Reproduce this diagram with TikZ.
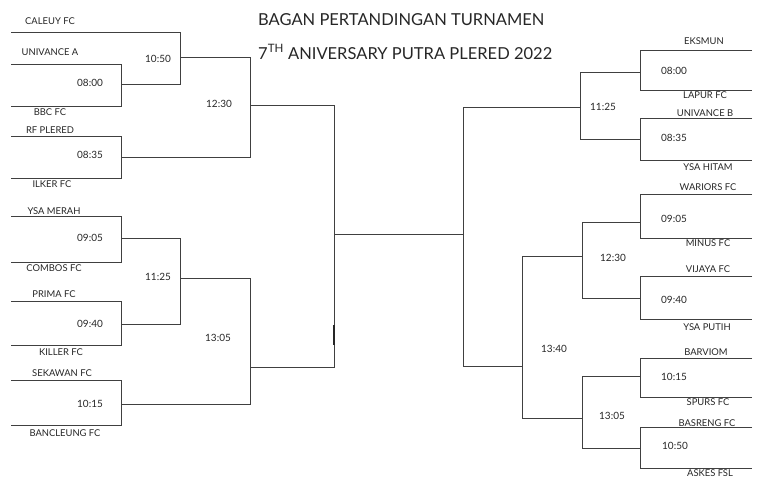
\documentclass[tikz,border=0pt]{standalone}
\usepackage{fontspec}
\setmainfont{Lato}
\usepackage{tikz}
\usetikzlibrary{positioning, calc}

\begin{document}
\begin{tikzpicture}[
    x=1pt, y=-1pt,
    every node/.style={text=black!85, inner sep=0pt},
    team/.style={font=\fontsize{9.4}{10}\selectfont},
    jam/.style={font=\fontsize{10}{11}\selectfont},
    judul/.style={font=\fontsize{16.5}{18}\selectfont, anchor=west},
    garis/.style={draw=black!75, line width=0.8pt},
    ]

    \useasboundingbox (0,0) rectangle (768,503);

    % Title
    \node[judul] (judul1) at (258,20) {BAGAN PERTANDINGAN TURNAMEN};
    \node[judul] (judul2) at (258,52) {7\textsuperscript{TH} ANIVERSARY PUTRA PLERED 2022};

    % ---------- left side ----------
    % first round
    \draw[garis] (11,32) -- (180,32);
    \draw[garis] (11,64) -- (121,64) -- (121,106) -- (11,106);
    \draw[garis] (11,136) -- (121,136) -- (121,178) -- (11,178);
    \draw[garis] (11,216) -- (121,216) -- (121,262) -- (11,262);
    \draw[garis] (11,301) -- (121,301) -- (121,345) -- (11,345);
    \draw[garis] (11,380) -- (121,380) -- (121,425) -- (11,425);

    % second round
    \draw[garis] (121,84) -- (180,84) -- (180,32);
    \draw[garis] (180,57) -- (250,57);
    \draw[garis] (121,157) -- (250,157) -- (250,57);
    \draw[garis] (121,238) -- (180,238) -- (180,324) -- (121,324);
    \draw[garis] (180,278) -- (250,278);
    \draw[garis] (121,404) -- (250,404) -- (250,278);

    % semifinal left
    \draw[garis] (250,105) -- (334,105) -- (334,367) -- (250,367);
    \draw[black!85, line width=1.6pt] (334,325) -- (334,345);

    % final
    \draw[garis] (334,234) -- (463,234);

    % ---------- right side ----------
    \draw[garis] (522,366) -- (463,366) -- (463,107) -- (580,107);
    \draw[garis] (640,72) -- (580,72) -- (580,139) -- (640,139);
    \draw[garis] (582,256) -- (522,256) -- (522,418) -- (582,418);
    \draw[garis] (640,222) -- (582,222) -- (582,298) -- (640,298);
    \draw[garis] (640,376) -- (582,376) -- (582,448) -- (640,448);

    % first round
    \draw[garis] (752,50) -- (640,50) -- (640,90) -- (752,90);
    \draw[garis] (752,118) -- (640,118) -- (640,160) -- (752,160);
    \draw[garis] (752,194) -- (640,194) -- (640,238) -- (752,238);
    \draw[garis] (752,276) -- (640,276) -- (640,319) -- (752,319);
    \draw[garis] (752,358) -- (640,358) -- (640,397) -- (752,397);
    \draw[garis] (752,427) -- (640,427) -- (640,468) -- (752,468);

    % Team names left
    \node[team] (caleuy)    at (50,21)  {CALEUY FC};
    \node[team] (univanceA) at (50,52)  {UNIVANCE A};
    \node[team] (bbc)       at (50,112) {BBC FC};
    \node[team] (rfplered)  at (50,130) {RF PLERED};
    \node[team] (ilker)     at (52,184) {ILKER FC};
    \node[team] (ysamerah)  at (54,211) {YSA MERAH};
    \node[team] (combos)    at (54,268) {COMBOS FC};
    \node[team] (prima)     at (54,294) {PRIMA FC};
    \node[team] (killer)    at (61,352) {KILLER FC};
    \node[team] (sekawan)   at (62,373) {SEKAWAN FC};
    \node[team] (bancleung) at (65,433) {BANCLEUNG FC};

    % Team names right
    \node[team] (eksmun)    at (704,41)  {EKSMUN};
    \node[team] (lapur)     at (705,95)  {LAPUR FC};
    \node[team] (univanceB) at (705,113) {UNIVANCE B};
    \node[team] (ysahitam)  at (708,167) {YSA HITAM};
    \node[team] (wariors)   at (708,187) {WARIORS FC};
    \node[team] (minus)     at (708,243) {MINUS FC};
    \node[team] (vijaya)    at (708,269) {VIJAYA FC};
    \node[team] (ysaputih)  at (707,327) {YSA PUTIH};
    \node[team] (barviom)   at (706,352) {BARVIOM};
    \node[team] (spurs)     at (708,402) {SPURS FC};
    \node[team] (basreng)   at (707,423) {BASRENG FC};
    \node[team] (askes)     at (710,473) {ASKES FSL};

    % Match times left
    \node[jam] (jamL1) at (90,83)   {08:00};
    \node[jam] (jamL2) at (90,155)  {08:35};
    \node[jam] (jamL3) at (90,238)  {09:05};
    \node[jam] (jamL4) at (90,324)  {09:40};
    \node[jam] (jamL5) at (90,404)  {10:15};
    \node[jam] (jamL6) at (158,59)  {10:50};
    \node[jam] (jamL7) at (158,277) {11:25};
    \node[jam] (jamL8) at (219,104) {12:30};
    \node[jam] (jamL9) at (218,338) {13:05};

    % Match times right
    \node[jam] (jamR1) at (674,71)  {08:00};
    \node[jam] (jamR2) at (674,138) {08:35};
    \node[jam] (jamR3) at (674,219) {09:05};
    \node[jam] (jamR4) at (674,300) {09:40};
    \node[jam] (jamR5) at (674,377) {10:15};
    \node[jam] (jamR6) at (675,446) {10:50};
    \node[jam] (jamR7) at (603,107) {11:25};
    \node[jam] (jamR8) at (613,258) {12:30};
    \node[jam] (jamR9) at (612,416) {13:05};
    \node[jam] (jamRA) at (554,349) {13:40};

\end{tikzpicture}
\end{document}
